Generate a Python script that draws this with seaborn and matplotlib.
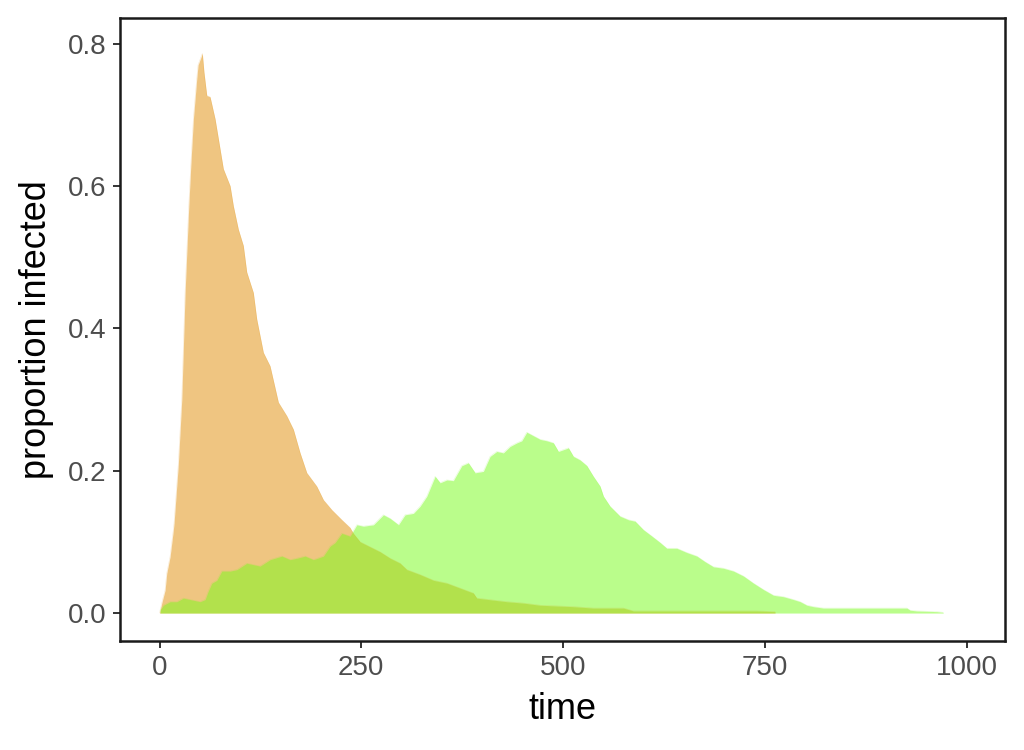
import numpy as np
import pandas as pd
import matplotlib
matplotlib.use("Agg")
import matplotlib.pyplot as plt
import seaborn as sns

# 感染割合の時系列
orange_time = [0, 2.7, 6.8, 8.9, 13, 17.1, 18, 23.3, 27.5, 31.6, 36.2, 38.7, 41.9, 46.1,
               47.7, 53, 55, 58.5, 62.6, 68.8, 72.9, 79, 87.4, 91.4, 97.6, 103.8, 108,
               116.2, 120.4, 128.6, 136.9, 147.2, 157.6, 165.8, 174.1, 182.4, 194.8,
               203, 213.4, 225.8, 236, 240, 248.5, 260.8, 273.2, 285.6, 298, 306.3,
               322.8, 339.3, 355.9, 372.4, 388.8, 393, 430, 450.8, 471.5, 512.8, 537.5,
               574.7, 587, 740, 762.7]
orange_prop = [0.0, 0.014, 0.032, 0.056, 0.079, 0.117, 0.127, 0.21, 0.30, 0.45, 0.572,
               0.629, 0.694, 0.751, 0.77, 0.786, 0.76, 0.727, 0.725, 0.694, 0.666, 0.624,
               0.600, 0.572, 0.539, 0.516, 0.479, 0.450, 0.413, 0.366, 0.347, 0.296,
               0.277, 0.258, 0.225, 0.197, 0.178, 0.159, 0.145, 0.131, 0.120, 0.112,
               0.100, 0.093, 0.086, 0.077, 0.070, 0.061, 0.054, 0.046, 0.042, 0.035,
               0.028, 0.021, 0.016, 0.014, 0.011, 0.009, 0.007, 0.007, 0.003, 0.003,
               0.002]

green_time = [0.6, 4.7, 13, 21.3, 29.5, 37.8, 50.2, 56.4, 60, 64.7, 70.9, 77.1, 87.4,
              95.7, 108, 116.2, 124.5, 136.9, 151.4, 161.7, 170, 180.3, 190.6, 203,
              211.3, 217.5, 225.8, 236, 244.4, 252.5, 265, 277.3, 285.6, 296, 304.2,
              314.5, 322.8, 331.1, 341.4, 347.6, 355.9, 364, 374.5, 382.6, 391, 401.2,
              409.5, 417.8, 426, 434.3, 442.6, 448.8, 455, 463.2, 471.5, 479.8, 488,
              494.2, 506.6, 512.8, 521, 529.4, 537.5, 545.9, 550, 558.2, 570.6, 581,
              589.2, 599.5, 610, 620.2, 628.5, 640.9, 653.3, 665.7, 676, 686.2, 698.6,
              711, 723.4, 735.8, 748.2, 760.6, 773, 785.4, 793.7, 802, 810.2, 822.5,
              925.9, 930, 938.3, 963, 971]
green_prop = [0.004, 0.011, 0.016, 0.016, 0.021, 0.019, 0.016, 0.019, 0.030, 0.042,
              0.046, 0.059, 0.059, 0.061, 0.070, 0.068, 0.066, 0.075, 0.080, 0.075,
              0.077, 0.080, 0.075, 0.080, 0.094, 0.099, 0.112, 0.108, 0.124, 0.122,
              0.124, 0.138, 0.133, 0.124, 0.138, 0.140, 0.150, 0.164, 0.192, 0.183,
              0.187, 0.186, 0.207, 0.211, 0.197, 0.199, 0.220, 0.227, 0.225, 0.234,
              0.239, 0.242, 0.254, 0.249, 0.244, 0.242, 0.239, 0.227, 0.232, 0.220,
              0.215, 0.207, 0.192, 0.178, 0.164, 0.150, 0.136, 0.131, 0.129, 0.117,
              0.108, 0.099, 0.091, 0.091, 0.085, 0.080, 0.072, 0.065, 0.063, 0.059,
              0.052, 0.042, 0.033, 0.025, 0.023, 0.019, 0.016, 0.011, 0.009, 0.007,
              0.007, 0.004, 0.003, 0.002, 0.001]

x_ticks = [0, 250, 500, 750, 1000]
y_ticks = [0.0, 0.2, 0.4, 0.6, 0.8]

sns.set_theme(style="white")
plt.rcParams['font.family'] = ['Liberation Sans', 'DejaVu Sans']

fig = plt.figure(figsize=(10.24, 7.5), dpi=100)
ax = fig.add_axes([0.1172, 0.1453, 0.8643, 0.8313])

series = [
    (orange_time, orange_prop, "#E18D05"),
    (green_time, green_prop, "#77FD19"),
]
for t, p, col in series:
    df = pd.DataFrame({"time": t, "prop": p})
    # 輪郭は塗りとほぼ同じ色で細く
    sns.lineplot(data=df, x="time", y="prop", ax=ax, color=col, alpha=0.2,
                 linewidth=0.4)
    ax.fill_between(df["time"], 0, df["prop"], color=col, alpha=0.5, linewidth=0)

ax.set_xlim(-49, 1047.7)
ax.set_ylim(-0.0393, 0.8365)
ax.set_xticks(x_ticks)
ax.set_xticklabels([str(v) for v in x_ticks])
ax.set_yticks(y_ticks)
ax.set_yticklabels([f"{v:.1f}" for v in y_ticks])

ax.tick_params(axis='both', which='major', direction='out', length=5, width=1.4,
               color='#333333', labelsize=20, labelcolor='#4D4D4D', pad=5,
               bottom=True, left=True)
ax.set_xlabel("time", fontsize=26, color='black', labelpad=8)
ax.set_ylabel("proportion infected", fontsize=26, color='black', labelpad=10)

for side in ax.spines.values():
    side.set_visible(True)
    side.set_color('#1a1a1a')
    side.set_linewidth(1.8)

fig.savefig("out.png", dpi=100)
